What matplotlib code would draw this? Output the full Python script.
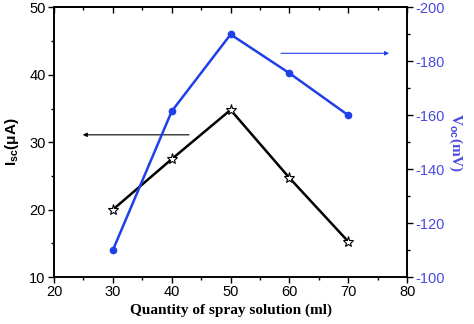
import matplotlib
matplotlib.use("Agg")
import matplotlib.pyplot as plt
from matplotlib.ticker import MultipleLocator

plt.rcParams["axes.unicode_minus"] = False
plt.rcParams["mathtext.fontset"] = "custom"
plt.rcParams["mathtext.bf"] = "Liberation Sans:bold"
plt.rcParams["mathtext.rm"] = "Liberation Sans"

quantity = [30, 40, 50, 60, 70]
isc = [20.0, 27.5, 34.8, 24.7, 15.25]
voc = [-110, -161.5, -190, -175.6, -160]

blue = "#1f3fe8"
tick_blue = "#4a4adf"

fig = plt.figure(figsize=(4.74, 3.24), dpi=100)
ax = fig.add_axes([0.114, 0.145, 0.745, 0.832])
ax2 = ax.twinx()

ax.plot(quantity, isc, color="black", lw=1.8, marker="*", ms=8,
        mfc="white", mec="black", mew=0.8, zorder=3)
ax2.plot(quantity, voc, color=blue, lw=1.8, marker="o", ms=4.5,
         mfc=blue, mec=blue, zorder=3)

ax.set_xlim(20, 80)
ax.set_ylim(10, 50)
ax2.set_ylim(-100, -200)

ax.annotate("", xy=(24.4, 31.1), xytext=(43.4, 31.1),
            arrowprops=dict(arrowstyle="-|>", color="black", lw=0.8,
                            mutation_scale=6))
ax2.annotate("", xy=(77.4, -183), xytext=(58.1, -183),
             arrowprops=dict(arrowstyle="-|>", color=blue, lw=0.8,
                             mutation_scale=6))

ax.xaxis.set_major_locator(MultipleLocator(10))
ax.xaxis.set_minor_locator(MultipleLocator(5))
ax.yaxis.set_major_locator(MultipleLocator(10))
ax.yaxis.set_minor_locator(MultipleLocator(5))
ax2.yaxis.set_major_locator(MultipleLocator(20))
ax2.yaxis.set_minor_locator(MultipleLocator(10))

tick_font = "Liberation Sans"
ax.tick_params(axis="x", which="both", direction="out", bottom=True, top=False,
               labelsize=10.5, pad=2)
ax.tick_params(axis="x", which="major", length=4, width=1)
ax.tick_params(axis="x", which="minor", length=2.5, width=1)
ax.tick_params(axis="y", which="major", direction="out", length=4, width=1,
               labelsize=10.5, pad=2)
ax.tick_params(axis="y", which="minor", direction="out", length=2.5, width=1)
ax2.tick_params(axis="y", which="major", direction="out", length=4, width=1,
                labelsize=10.5, labelcolor=tick_blue, pad=2)
ax2.tick_params(axis="y", which="minor", direction="out", length=2.5, width=1)

# inward ticks on top spine
sec = ax.secondary_xaxis("top")
sec.xaxis.set_major_locator(MultipleLocator(10))
sec.xaxis.set_minor_locator(MultipleLocator(5))
sec.tick_params(which="major", direction="in", length=4, width=1, labeltop=False)
sec.tick_params(which="minor", direction="in", length=2.5, width=1)
sec.spines["top"].set_linewidth(1.2)

for a in (ax, ax2):
    for s in a.spines.values():
        s.set_linewidth(1.2)

for lab in ax.get_xticklabels() + ax.get_yticklabels() + ax2.get_yticklabels():
    lab.set_fontfamily(tick_font)

ax.set_xlabel("Quantity of spray solution (ml)", fontfamily="Liberation Serif",
              fontweight="bold", fontsize=11, labelpad=3)
ax.set_ylabel("I$_\\mathbf{sc}$(μA)", fontfamily="Liberation Sans",
              fontweight="bold", fontsize=11, labelpad=6)
ax2.set_ylabel("V$_\\mathbf{oc}$(mV)", fontfamily="Liberation Serif",
               fontweight="bold", fontsize=11, color=tick_blue, rotation=-90,
               labelpad=14)

fig.savefig("out.png", dpi=100)
